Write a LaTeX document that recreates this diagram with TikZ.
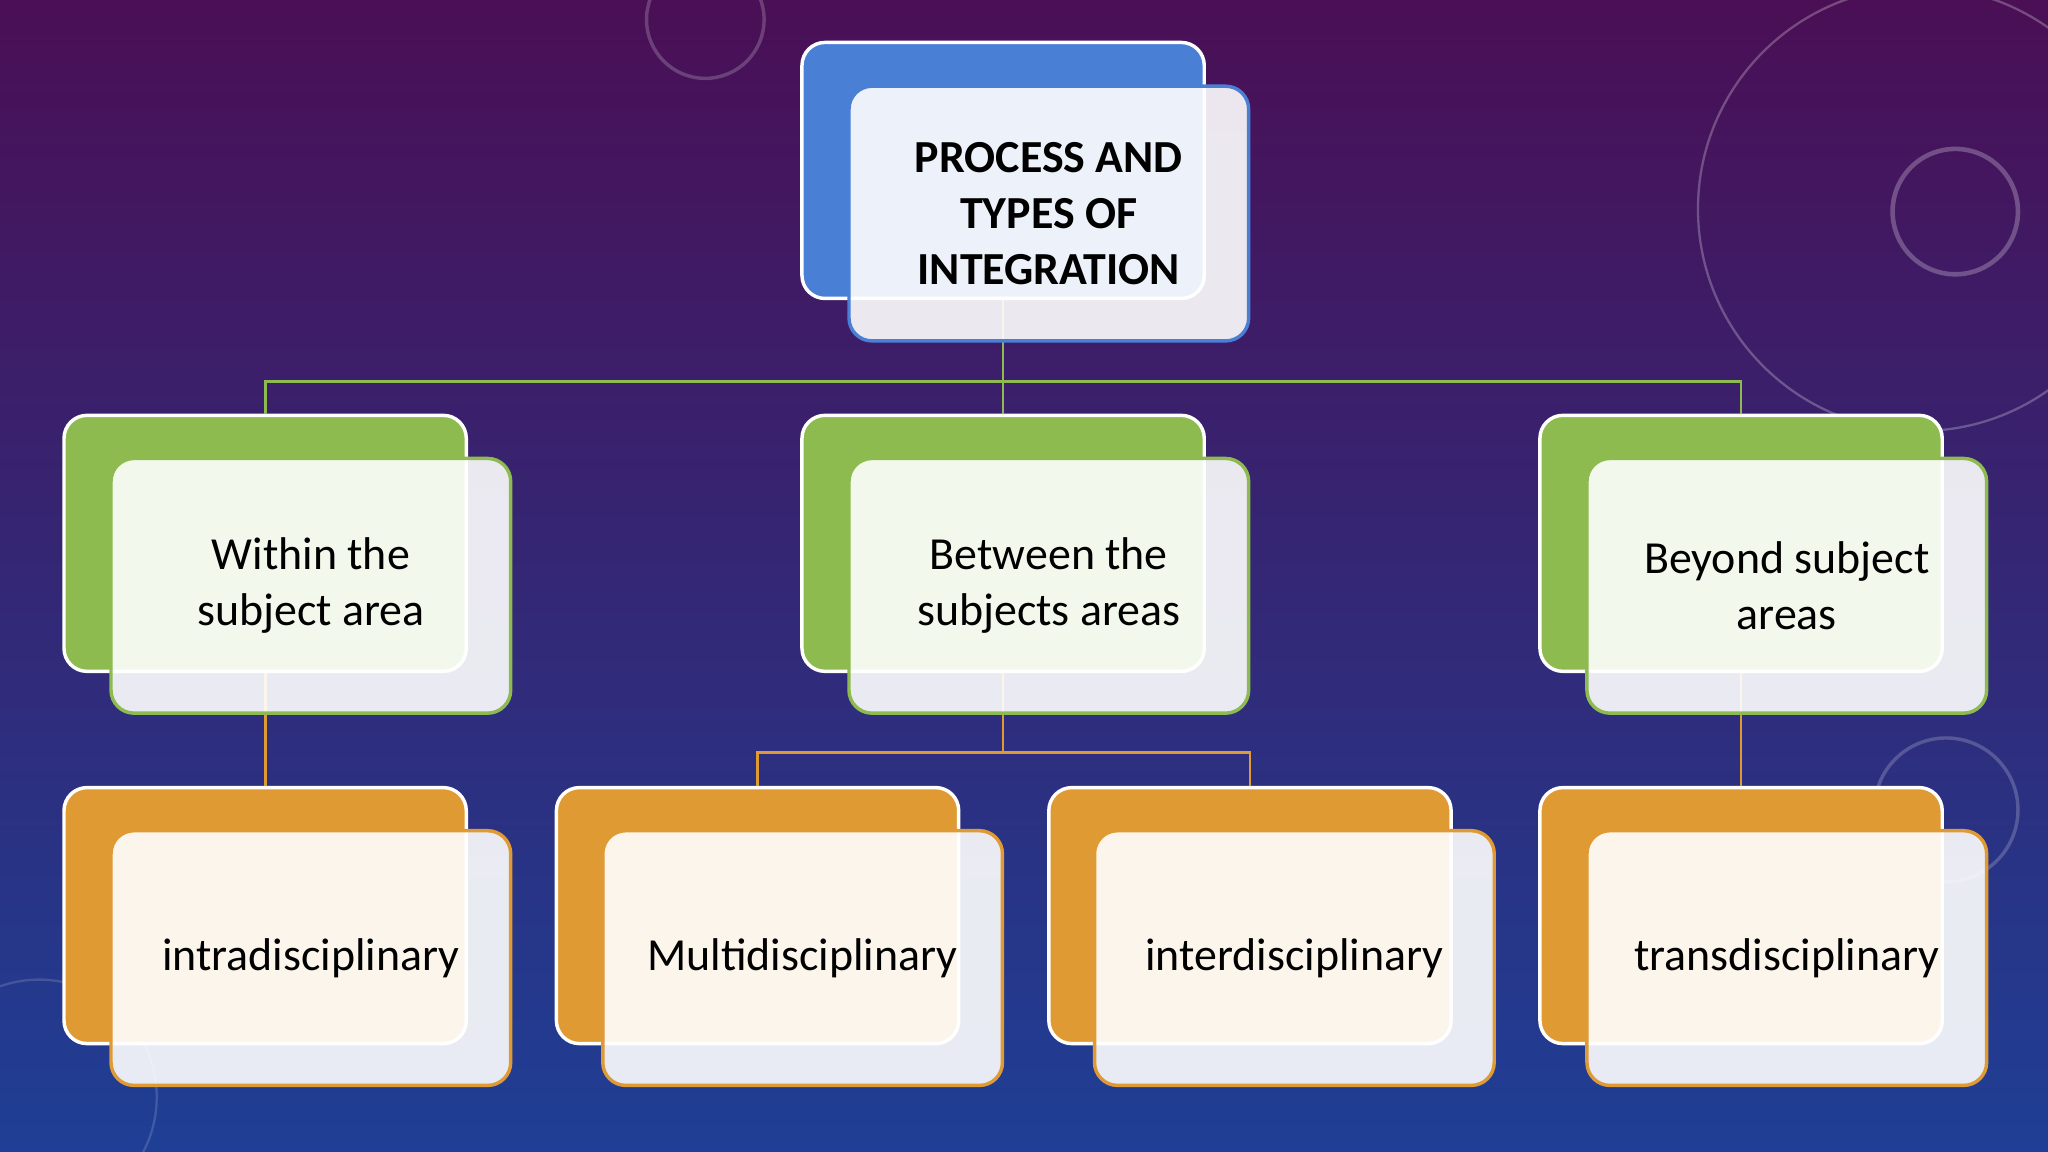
\documentclass[tikz,border=0pt]{standalone}
\usepackage{fontspec}
\setmainfont{Carlito}
\usetikzlibrary{positioning}
\definecolor{bluebox}{HTML}{4A7FD6}
\definecolor{greenbox}{HTML}{8DBB50}
\definecolor{orangebox}{HTML}{E09A33}
\definecolor{bgtop}{HTML}{4A0F55}
\definecolor{bgbot}{HTML}{1E3F95}
\tikzset{
  back/.style={draw=white, line width=1.5pt, rounded corners=10pt, minimum width=308*0.02cm, minimum height=196*0.02cm, inner sep=0pt},
  front/.style={draw=#1, fill=white, fill opacity=0.9, text opacity=1, line width=1.5pt, rounded corners=10pt, minimum width=306*0.02cm, minimum height=195*0.02cm, align=center, font=\fontsize{20}{24.4}\selectfont},
  link/.style={line width=1.2pt},
}
\begin{document}
\begin{tikzpicture}[x=0.02cm, y=-0.02cm]
\shade[top color=bgtop, bottom color=bgbot] (0,0) rectangle (1568,882);
\useasboundingbox (0,0) rectangle (1568,882);
% faint decorations
\draw[white, opacity=0.25, line width=1pt] (1470,160) circle (170);
\draw[white, opacity=0.25, line width=2pt] (1497,162) circle (48);
\draw[white, opacity=0.2, line width=1.5pt] (540,15) circle (45);
\draw[white, opacity=0.2, line width=1.5pt] (1490,620) circle (55);
\draw[white, opacity=0.15, line width=1pt] (30,840) circle (90);
% back boxes
\node[back, fill=bluebox] (top) at (768,130.5) {};
\node[back, fill=greenbox] (within) at (203,416) {};
\node[back, fill=greenbox] (between) at (768,416) {};
\node[back, fill=greenbox] (beyond) at (1333,416) {};
\node[back, fill=orangebox] (intra) at (203,701) {};
\node[back, fill=orangebox] (multi) at (580,701) {};
\node[back, fill=orangebox] (inter) at (957,701) {};
\node[back, fill=orangebox] (trans) at (1333,701) {};
% connectors
\draw[link, greenbox] (top.south) -- ++(0,62) coordinate (hub);
\draw[link, greenbox] (hub) -| (within.north);
\draw[link, greenbox] (hub) -- (between.north);
\draw[link, greenbox] (hub) -| (beyond.north);
\draw[link, orangebox] (within.south) -- (intra.north);
\draw[link, orangebox] (between.south) -- ++(0,61) coordinate (hub2);
\draw[link, orangebox] (hub2) -| (multi.north);
\draw[link, orangebox] (hub2) -| (inter.north);
\draw[link, orangebox] (beyond.south) -- (trans.north);
% front boxes
\node[front=bluebox, font=\fontsize{20}{24.4}\selectfont\bfseries] (topf) at (803,163.5) {PROCESS AND\\TYPES OF\\INTEGRATION};
\node[front=greenbox] (withinf) at (238,448.5) {Within the\\subject area};
\node[front=greenbox] (betweenf) at (803,448.5) {Between the\\subjects areas};
\node[front=greenbox] (beyondf) at (1368,448.5) {Beyond subject\\areas};
\node[front=orangebox] (intraf) at (238,733.5) {intradisciplinary};
\node[front=orangebox] (multif) at (614.5,733.5) {Multidisciplinary};
\node[front=orangebox] (interf) at (991,733.5) {interdisciplinary};
\node[front=orangebox] (transf) at (1368,733.5) {transdisciplinary};
\end{tikzpicture}
\end{document}
